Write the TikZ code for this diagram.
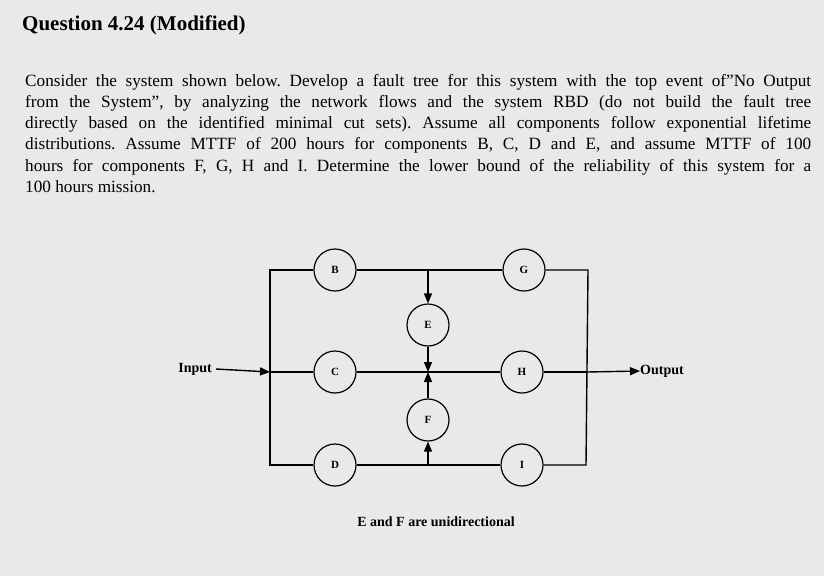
\documentclass[tikz,border=0pt]{standalone}
\usepackage{fontspec}
\defaultfontfeatures{}
\setmainfont{Liberation Serif}
\usetikzlibrary{arrows.meta}
\begin{document}
\frenchspacing
\begin{tikzpicture}[x=1pt,y=-1pt,
  comp/.style={circle,draw,line width=1.2pt,minimum size=42pt,inner sep=0pt,font=\fontsize{11}{12}\selectfont\bfseries},
  wire/.style={line width=1.4pt},
  arr/.style={wire,-{Triangle[length=10pt,width=8pt]}}]
\fill[gray!17] (0,0) rectangle (824,576);
\useasboundingbox (0,0) rectangle (824,576);
\node[anchor=base west,inner sep=0pt,font=\fontsize{21}{24}\selectfont\bfseries] (title) at (22,30) {Question 4.24 (Modified)};
\node[anchor=north west,inner sep=0pt,text width=786pt,align=justify,font=\fontsize{17.2}{21.2}\selectfont] (para) at (25,74) {Consider the system shown below. Develop a fault tree for this system with the top event of"No Output\linebreak from the System", by analyzing the network flows and the system RBD (do not build the fault tree\linebreak directly based on the identified minimal cut sets). Assume all components follow exponential lifetime\linebreak distributions. Assume MTTF of 200 hours for components B, C, D and E, and assume MTTF of 100\linebreak hours for components F, G, H and I. Determine the lower bound of the reliability of this system for a\linebreak 100 hours mission.};
\node[comp] (B) at (335,270) {B};
\node[comp] (G) at (524,270) {G};
\node[comp] (E) at (428,325) {E};
\node[comp] (C) at (335,372) {C};
\node[comp] (H) at (522,372) {H};
\node[comp] (F) at (428,420) {F};
\node[comp] (D) at (335,465) {D};
\node[comp] (I) at (522,465) {I};
\coordinate (tl) at (270,270); \coordinate (bl) at (270,465);
\coordinate (ml) at (270,372);
\coordinate (tr) at (588,270); \coordinate (br) at (586,465);
\coordinate (mr) at (587,372);
\coordinate (tm) at (428,270); \coordinate (bm) at (428,465); \coordinate (mm) at (428,372);
\node[anchor=east,inner sep=0pt,font=\fontsize{14}{16}\selectfont\bfseries] (in) at (212,369) {Input};
\node[anchor=west,inner sep=0pt,font=\fontsize{14}{16}\selectfont\bfseries] (out) at (640,371) {Output};
\draw[arr] (in.east) ++(4,0) -- (ml);
\draw[wire] (B.west) -- (tl) -- (bl) -- (D.west);
\draw[wire] (ml) -- (C.west);
\draw[wire] (B.east) -- (G.west);
\draw[wire] (D.east) -- (I.west);
\draw[wire] (C.east) -- (H.west);
\draw[wire] (G.east) -- (tr) -- (br) -- (I.east);
\draw[wire] (H.east) -- (mr);
\draw[arr] (mr) -- (out.west);
\draw[arr] (tm) -- (E.north);
\draw[arr] (E.south) -- (mm);
\draw[arr] (bm) -- (F.south);
\draw[arr] (F.north) -- (mm);
\node[font=\fontsize{14}{16}\selectfont\bfseries] (cap) at (436,522) {E and F are unidirectional};
\end{tikzpicture}
\end{document}
